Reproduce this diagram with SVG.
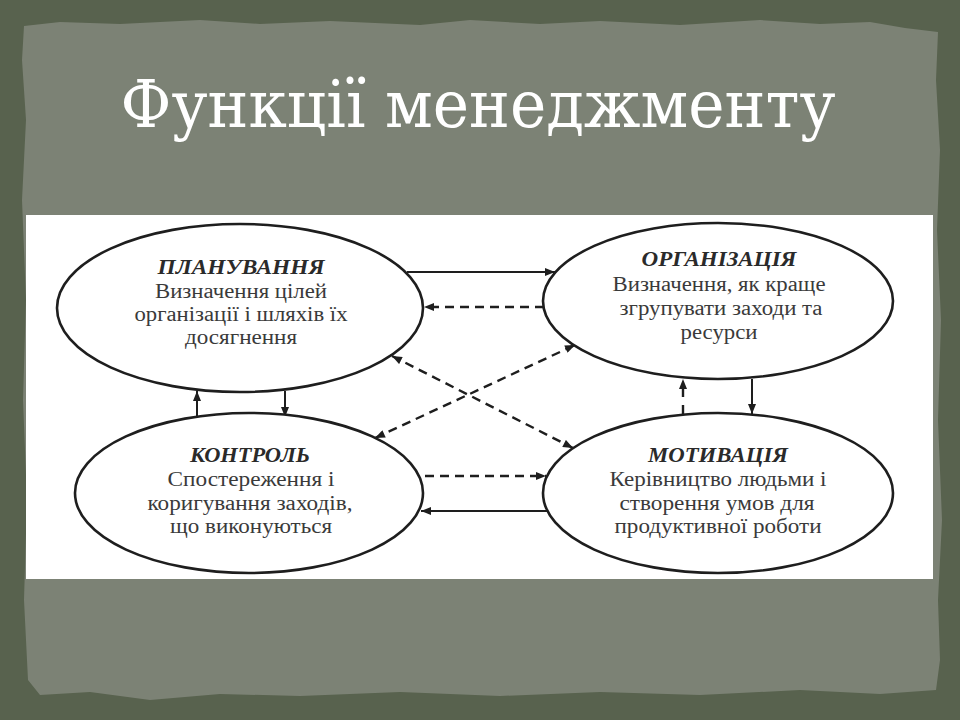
<svg xmlns="http://www.w3.org/2000/svg" width="960" height="720" viewBox="0 0 960 720">
<defs>
<style>
.node ellipse{fill:#ffffff;stroke:#1e1e1e;stroke-width:2.6}
.hd{font-family:"Liberation Serif","Times New Roman",serif;font-size:20px;font-weight:bold;font-style:italic;fill:#2a2a2a;text-anchor:middle}
.tx{font-family:"Liberation Serif","Times New Roman",serif;font-size:20px;fill:#3a3a3a;text-anchor:middle}
.sol{stroke:#1e1e1e;stroke-width:2;fill:none}
.dsh{stroke:#1e1e1e;stroke-width:2.4;fill:none;stroke-dasharray:9 6}
</style>
<marker id="ah" viewBox="0 0 10 8" refX="10" refY="4" markerWidth="11" markerHeight="8" markerUnits="userSpaceOnUse" orient="auto-start-reverse">
<path d="M0,0 L10,4 L0,8 Z" fill="#1e1e1e"/>
</marker>
</defs>
<rect x="0" y="0" width="960" height="720" fill="#58624e"/>
<path d="M24,26 L60,22 L120,24 L200,20 L260,24 L330,21 L420,25 L470,20 L540,24 L600,21 L680,25 L760,20 L820,24 L870,22 L905,28 L938,32 L936,80 L940,150 L937,230 L941,320 L938,420 L942,520 L938,600 L940,660 L936,690 L880,694 L800,690 L700,695 L600,692 L500,696 L400,692 L300,696 L220,694 L150,700 L90,692 L40,695 L28,680 L24,600 L27,500 L23,400 L26,300 L22,200 L26,120 L22,60 Z" fill="#7c8275"/>
<text x="478" y="127" font-family="DejaVu Serif Condensed, DejaVu Serif, Liberation Serif, serif" font-size="66" fill="#ffffff" text-anchor="middle" textLength="715" lengthAdjust="spacingAndGlyphs">Функції менеджменту</text>
<rect x="26" y="215" width="907" height="364" fill="#ffffff"/>
<g id="connectors">
<line class="sol" x1="407" y1="272" x2="555" y2="272" marker-end="url(#ah)"/>
<line class="dsh" x1="544" y1="307" x2="424" y2="307" marker-end="url(#ah)"/>
<line class="dsh" x1="392" y1="356" x2="573" y2="448" marker-start="url(#ah)" marker-end="url(#ah)"/>
<line class="dsh" x1="375" y1="438" x2="575" y2="345" marker-start="url(#ah)" marker-end="url(#ah)"/>
<line class="dsh" x1="425" y1="476" x2="546" y2="476" marker-end="url(#ah)"/>
<line class="sol" x1="547" y1="511" x2="421" y2="511" marker-end="url(#ah)"/>
<line class="sol" x1="197" y1="417" x2="197" y2="391" marker-end="url(#ah)"/>
<line class="sol" x1="285" y1="391" x2="285" y2="417" marker-end="url(#ah)"/>
<line class="dsh" x1="683" y1="415" x2="683" y2="379" marker-end="url(#ah)" style="stroke-dasharray:10 8"/>
<line class="sol" x1="752" y1="379" x2="752" y2="414" marker-end="url(#ah)"/>
</g>
<g id="planning" class="node">
<ellipse cx="240" cy="308" rx="183" ry="84"/>
<text class="hd" x="241" y="274" textLength="167" lengthAdjust="spacingAndGlyphs">ПЛАНУВАННЯ</text>
<text class="tx" x="241" y="298" textLength="172" lengthAdjust="spacingAndGlyphs">Визначення цілей</text>
<text class="tx" x="241" y="321" textLength="213" lengthAdjust="spacingAndGlyphs">організації і шляхів їх</text>
<text class="tx" x="241" y="344" textLength="112" lengthAdjust="spacingAndGlyphs">досягнення</text>
</g>
<g id="organization" class="node">
<ellipse cx="718" cy="301" rx="175" ry="78"/>
<text class="hd" x="719" y="266" textLength="155" lengthAdjust="spacingAndGlyphs">ОРГАНІЗАЦІЯ</text>
<text class="tx" x="719" y="291" textLength="213" lengthAdjust="spacingAndGlyphs">Визначення, як краще</text>
<text class="tx" x="721" y="315" textLength="203" lengthAdjust="spacingAndGlyphs">згрупувати заходи та</text>
<text class="tx" x="719" y="339" textLength="77" lengthAdjust="spacingAndGlyphs">ресурси</text>
</g>
<g id="control" class="node">
<ellipse cx="249" cy="493" rx="174" ry="80"/>
<text class="hd" x="250" y="462" textLength="120" lengthAdjust="spacingAndGlyphs">КОНТРОЛЬ</text>
<text class="tx" x="251" y="486" textLength="167" lengthAdjust="spacingAndGlyphs">Спостереження і</text>
<text class="tx" x="250" y="510" textLength="205" lengthAdjust="spacingAndGlyphs">коригування заходів,</text>
<text class="tx" x="251" y="533" textLength="162" lengthAdjust="spacingAndGlyphs">що виконуються</text>
</g>
<g id="motivation" class="node">
<ellipse cx="718" cy="493" rx="175" ry="80"/>
<text class="hd" x="718" y="462" textLength="140" lengthAdjust="spacingAndGlyphs">МОТИВАЦІЯ</text>
<text class="tx" x="718" y="486" textLength="217" lengthAdjust="spacingAndGlyphs">Керівництво людьми і</text>
<text class="tx" x="717" y="510" textLength="195" lengthAdjust="spacingAndGlyphs">створення умов для</text>
<text class="tx" x="718" y="533" textLength="207" lengthAdjust="spacingAndGlyphs">продуктивної роботи</text>
</g>
</svg>
